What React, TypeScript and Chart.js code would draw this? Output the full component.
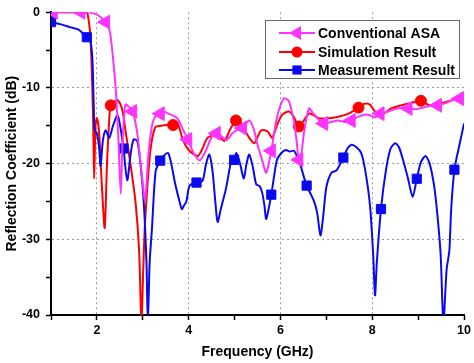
import React, { useEffect, useRef } from 'react';
import { Chart, registerables } from 'chart.js';

Chart.register(...registerables);

// ---------- data ----------
const seriesNames = ['Conventional ASA', 'Simulation Result', 'Measurement Result'];

const asaFreq = [1.0, 1.05, 1.3, 1.65, 1.9, 2.05, 2.19, 2.28, 2.35, 2.42, 2.47, 2.52, 2.56, 2.62, 2.7, 2.78, 2.88, 2.97, 3.05, 3.12, 3.2, 3.27, 3.38, 3.45, 3.6, 3.75, 3.9, 3.98, 4.1, 4.24, 4.38, 4.5, 4.6, 4.7, 4.82, 4.95, 5.04, 5.17, 5.32, 5.42, 5.49, 5.6, 5.69, 5.8, 5.92, 6.07, 6.18, 6.29, 6.35, 6.4, 6.46, 6.51, 6.62, 6.72, 6.85, 6.94, 7.1, 7.26, 7.4, 7.54, 7.7, 7.85, 7.95, 8.05, 8.17, 8.3, 8.5, 8.65, 8.78, 8.95, 9.1, 9.25, 9.42, 9.6, 9.75, 9.9, 10.0];
const asaDb = [0, 0, 0, 0, -0.1, -0.5, -1.3, -2.5, -6, -11, -17, -24, -17, -12.2, -12.5, -13.1, -16, -21, -24.8, -19, -15, -13.8, -13.4, -13.1, -13.5, -14, -15.8, -16.8, -18.5, -19.6, -18.2, -16.5, -16, -16.3, -16.9, -16, -15.6, -15.3, -14.3, -15.5, -17.3, -19.5, -21.2, -18.3, -14, -11.4, -11.7, -14.3, -16.9, -19.5, -18.5, -16, -12.7, -13.4, -14.3, -14.7, -14.5, -14.3, -14.5, -14.3, -13.8, -13.5, -13.6, -13.9, -13.4, -13.2, -12.8, -12.6, -12.7, -12.8, -12.6, -12.4, -12.3, -12.0, -11.6, -11.4, -11.2];
const asaMarkers = [1.05, 1.65, 2.19, 2.78, 3.38, 3.98, 4.6, 5.17, 5.8, 6.4, 6.94, 7.54, 8.17, 8.78, 9.42, 9.9];

const simFreq = [1.0, 1.5, 1.75, 1.8, 1.86, 1.9, 1.92, 1.94, 1.97, 2.0, 2.05, 2.1, 2.17, 2.22, 2.27, 2.3, 2.38, 2.45, 2.55, 2.62, 2.73, 2.84, 2.92, 2.97, 3.01, 3.05, 3.16, 3.27, 3.4, 3.55, 3.66, 3.76, 3.87, 4.0, 4.2, 4.3, 4.41, 4.6, 4.78, 4.9, 5.03, 5.12, 5.2, 5.32, 5.43, 5.5, 5.58, 5.71, 5.75, 5.82, 5.92, 6.03, 6.18, 6.29, 6.4, 6.51, 6.62, 6.72, 6.83, 7.05, 7.26, 7.48, 7.7, 7.83, 7.95, 8.06, 8.24, 8.41, 8.62, 8.84, 9.06, 9.25, 9.47, 9.7, 10.0];
const simDb = [0, 0, 0, -0.3, -3.4, -10, -15, -22, -15, -14, -16, -22, -28.5, -20, -14, -12.3, -11.8, -11.6, -12.8, -15.5, -20, -25, -31.5, -41, -34, -27.7, -18.6, -15.2, -15, -14.9, -14.9, -14.7, -16.8, -18.2, -19, -18, -16.6, -16.2, -17, -15.5, -14.3, -14.5, -15.3, -16.6, -17.3, -16.5, -15.6, -15.7, -16, -16.6, -15, -13.6, -13.1, -13.8, -15.1, -14.3, -13.4, -13.6, -14, -14, -13.8, -13.4, -12.6, -12.1, -12.2, -13.1, -13.4, -12.7, -12.3, -12.0, -11.7, -12.3, -12.1, -11.7, -11.2];
const simMarkers = [2.3, 3.66, 5.03, 6.4, 7.7, 9.06];

const measFreq = [1.0, 1.22, 1.43, 1.6, 1.78, 1.85, 1.9, 1.93, 1.95, 2.0, 2.05, 2.08, 2.13, 2.19, 2.27, 2.35, 2.45, 2.52, 2.58, 2.66, 2.74, 2.8, 2.88, 2.95, 3.02, 3.08, 3.11, 3.15, 3.2, 3.28, 3.38, 3.45, 3.55, 3.62, 3.7, 3.78, 3.85, 3.9, 3.95, 4.02, 4.17, 4.3, 4.38, 4.45, 4.52, 4.58, 4.63, 4.7, 4.82, 4.93, 4.99, 5.04, 5.12, 5.2, 5.26, 5.32, 5.4, 5.47, 5.55, 5.6, 5.65, 5.69, 5.8, 5.92, 6.02, 6.12, 6.2, 6.29, 6.36, 6.44, 6.57, 6.72, 6.8, 6.87, 6.93, 7.0, 7.11, 7.22, 7.37, 7.46, 7.55, 7.65, 7.76, 7.85, 7.95, 8.02, 8.06, 8.1, 8.19, 8.3, 8.4, 8.5, 8.58, 8.67, 8.78, 8.88, 8.97, 9.06, 9.16, 9.25, 9.35, 9.42, 9.49, 9.55, 9.62, 9.68, 9.72, 9.79, 9.9, 10.0];
const measDb = [-1.3, -1.6, -2.0, -2.3, -3.3, -3.6, -6, -12, -15.5, -16, -18, -20.3, -17, -15.6, -16.6, -15, -13.6, -15.5, -18, -22.2, -18.5, -16.8, -17, -20, -25, -33, -41, -33, -28.6, -21, -19.6, -19, -18.6, -20, -22.5, -24.5, -26, -25.5, -25, -22.9, -22.5, -22.3, -20, -18.8, -21, -25, -27.7, -26, -23.1, -19.6, -19.5, -18.6, -20, -22, -20, -18.8, -20.5, -22.7, -23, -23.8, -25.5, -27.3, -24.1, -19.6, -18.6, -18.2, -18.4, -18.3, -19, -20.3, -22.9, -24.8, -26.5, -29.5, -27, -23.1, -21.2, -20.9, -19.2, -18, -17.5, -17.8, -18.6, -21, -25.5, -32, -37.4, -33, -26, -20.8, -18, -17.3, -17.8, -19.5, -22, -24.4, -22, -19.8, -19, -20, -23, -26.8, -32, -41, -34, -31.5, -26, -20.8, -17.5, -14.7];
const measMarkers = [1.0, 1.78, 2.58, 3.38, 4.17, 4.99, 5.8, 6.57, 7.37, 8.19, 8.97, 9.79];

const xMajorTicks = [2, 4, 6, 8, 10];
const yMajorTicks = [0, -10, -20, -30, -40];

// ---------- styles ----------
const FONT = "'Liberation Sans', Arial, sans-serif";
const colors = ['#ff33ff', '#ff0000', '#0a0af0'];
const styles = ['triangle', 'circle', 'rect'];
const radii = [8, 5.5, 6.5];

function drawMarker(ctx: CanvasRenderingContext2D, kind: string, x: number, y: number, r: number, color: string) {
  ctx.save();
  ctx.fillStyle = color;
  ctx.strokeStyle = color;
  ctx.beginPath();
  if (kind === 'triangle') {
    // pointing left
    const a = (-90 * Math.PI) / 180;
    for (let k = 0; k < 3; k++) {
      const ang = a + (k * 2 * Math.PI) / 3;
      const px = x + Math.sin(ang) * r;
      const py = y - Math.cos(ang) * r;
      if (k === 0) ctx.moveTo(px, py); else ctx.lineTo(px, py);
    }
    ctx.closePath();
  } else if (kind === 'circle') {
    ctx.arc(x, y, r, 0, Math.PI * 2);
  } else {
    const s = r * Math.SQRT1_2;
    ctx.rect(x - s, y - s, 2 * s, 2 * s);
  }
  ctx.fill();
  ctx.restore();
}

const legendPlugin = {
  id: 'boxLegend',
  afterDraw(chart: any) {
    const ctx: CanvasRenderingContext2D = chart.ctx;
    const bx = 265, by = 20, bw = 194, bh = 58;
    ctx.save();
    ctx.fillStyle = '#ffffff';
    ctx.fillRect(bx, by, bw, bh);
    ctx.strokeStyle = '#666666';
    ctx.lineWidth = 1;
    ctx.strokeRect(bx + 0.5, by + 0.5, bw, bh);
    const rows = [33, 52, 70];
    seriesNames.forEach((name, i) => {
      const y = rows[i];
      ctx.strokeStyle = colors[i];
      ctx.lineWidth = 2;
      ctx.beginPath();
      ctx.moveTo(279, y);
      ctx.lineTo(315, y);
      ctx.stroke();
      drawMarker(ctx, styles[i], 297, y, radii[i], colors[i]);
      ctx.fillStyle = '#000000';
      ctx.font = `bold 14px ${FONT}`;
      ctx.textBaseline = 'middle';
      ctx.textAlign = 'left';
      ctx.fillText(name, 318, y + 1);
    });
    ctx.restore();
  },
};

function buildDataset(i: number, freq: number[], db: number[], markers: number[], order: number) {
  return {
    label: seriesNames[i],
    data: freq.map((f, k) => ({ x: f, y: db[k] })),
    borderColor: colors[i],
    backgroundColor: colors[i],
    borderWidth: 2,
    tension: 0.25,
    pointStyle: styles[i] as any,
    pointRotation: i === 0 ? -90 : 0,
    pointRadius: (c: any) => (c.raw && markers.includes(c.raw.x) ? radii[i] : 0),
    pointHoverRadius: 0,
    pointBorderWidth: 1,
    order,
  };
}

export default function App() {
  const ref = useRef<HTMLCanvasElement | null>(null);

  useEffect(() => {
    if (!ref.current) return;
    const chart = new Chart(ref.current, {
      type: 'line',
      data: {
        datasets: [
          buildDataset(0, asaFreq, asaDb, asaMarkers, 1),
          buildDataset(1, simFreq, simDb, simMarkers, 3),
          buildDataset(2, measFreq, measDb, measMarkers, 2),
        ],
      },
      options: {
        animation: false,
        responsive: true,
        maintainAspectRatio: false,
        layout: { padding: { top: 7, right: 8, left: 0, bottom: 0 } },
        plugins: { legend: { display: false }, tooltip: { enabled: false } },
        scales: {
          x: {
            type: 'linear',
            min: 1,
            max: 10,
            afterFit: (s: any) => { s.height = 48; },
            ticks: {
              stepSize: 1,
              autoSkip: false,
              maxRotation: 0,
              padding: 3,
              color: '#000',
              font: { family: FONT, size: 12.5, weight: 'bold', lineHeight: 1.2 },
              callback: (v: any) => (xMajorTicks.includes(Number(v)) ? String(v) : ''),
            },
            grid: {
              color: (c: any) => (c.tick && xMajorTicks.includes(c.tick.value) && c.tick.value !== 10 ? '#9a9a9a' : 'rgba(0,0,0,0)'),
              lineWidth: 1,
              tickColor: '#000',
              tickLength: 5,
              tickWidth: 1.5,
            },
            border: { display: true, color: '#000', width: 2, dash: [2, 3] },
            title: {
              display: true,
              text: 'Frequency (GHz)',
              color: '#000',
              font: { family: FONT, size: 14, weight: 'bold', lineHeight: 1.2 },
              padding: { top: 0, bottom: 2 },
            },
          },
          y: {
            type: 'linear',
            min: -40,
            max: 0,
            afterFit: (s: any) => { s.width = 51; },
            ticks: {
              stepSize: 5,
              autoSkip: false,
              padding: 6,
              color: '#000',
              font: { family: FONT, size: 12.5, weight: 'bold', lineHeight: 1.0 },
              callback: (v: any) => (yMajorTicks.includes(Number(v)) ? String(v) : ''),
            },
            grid: {
              color: (c: any) => (c.tick && [-10, -20, -30].includes(c.tick.value) ? '#9a9a9a' : 'rgba(0,0,0,0)'),
              lineWidth: 1,
              tickColor: '#000',
              tickLength: 5,
              tickWidth: 1.5,
            },
            border: { display: true, color: '#000', width: 2, dash: [2, 3] },
            title: {
              display: true,
              text: 'Reflection Coefficient (dB)',
              color: '#000',
              font: { family: FONT, size: 14, weight: 'bold', lineHeight: 1.2 },
              padding: { top: 4, bottom: 0 },
            },
          },
        },
      },
      plugins: [legendPlugin],
    });
    return () => chart.destroy();
  }, []);

  return (
    <div style={{ position: 'fixed', left: 0, top: 0, width: 474, height: 363, background: '#fff' }}>
      <canvas ref={ref} />
    </div>
  );
}
